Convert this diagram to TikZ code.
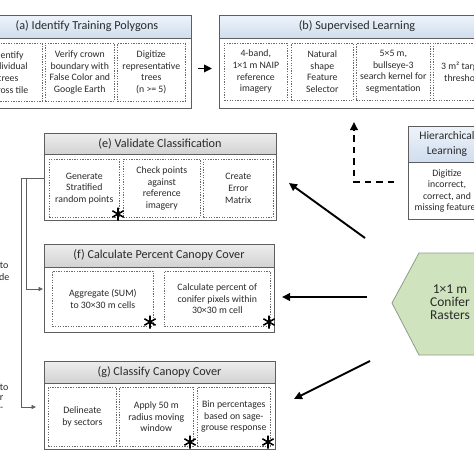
\documentclass[tikz,border=0pt]{standalone}
\usepackage{fontspec}
\setmainfont{Carlito}
\usetikzlibrary{arrows.meta}
\definecolor{boxline}{HTML}{5E5E5E}
\definecolor{innerline}{HTML}{6A6A6A}
\definecolor{bluetop}{HTML}{EEF3FA}
\definecolor{bluebot}{HTML}{CFDDEE}
\definecolor{graytop}{HTML}{EDEDED}
\definecolor{graybot}{HTML}{D2D2D2}
\definecolor{hexfill}{HTML}{CFE4BE}
\definecolor{hexline}{HTML}{8E9C86}
\definecolor{txtc}{HTML}{2A2A2A}
\begin{document}
\begin{tikzpicture}[x=1pt,y=-1pt,
  outerbox/.style={draw=boxline, line width=0.9pt, fill=white, inner sep=0pt, anchor=north west},
  blueband/.style={draw=boxline, line width=0.9pt, top color=bluetop, bottom color=bluebot, inner sep=0pt, anchor=north west},
  grayband/.style={draw=boxline, line width=0.9pt, top color=graytop, bottom color=graybot, inner sep=0pt, anchor=north west},
  innerbox/.style={draw=innerline, line width=0.6pt, dash pattern=on 1.3pt off 1.3pt, inner sep=1pt, anchor=north west, align=center, text=txtc, font=\fontsize{9.8}{11.6}\selectfont},
  ttl/.style={text=txtc, font=\fontsize{12.2}{14}\selectfont, inner sep=0pt},
  side/.style={text=txtc, font=\fontsize{10}{12}\selectfont, inner sep=0pt, anchor=east},
  bigarrow/.style={draw=black, line width=1.9pt, -{Triangle[length=8pt,width=7.5pt]}},
  dasharrow/.style={draw=black, line width=1.8pt, dash pattern=on 6.5pt off 5pt, -{Triangle[length=8pt,width=7.5pt]}},
  conn/.style={draw=boxline, line width=0.8pt},
  connarrow/.style={draw=boxline, line width=0.8pt, -{Triangle[length=4.5pt,width=4pt]}},
  astk/.pic={\draw[line width=1.6pt] (0,-6.5)--(0,6.5) (-5.6,-3.2)--(5.6,3.2) (-5.6,3.2)--(5.6,-3.2);}
]
\useasboundingbox (0,0) rectangle (474,474);
\clip (0,0) rectangle (474,474);
\fill[white] (0,0) rectangle (474,474);

% (a)
\node[outerbox, minimum width=222pt, minimum height=93pt] (a) at (-31,15) {};
\node[blueband, minimum width=222pt, minimum height=23pt] (ab) at (-31,15) {};
\node[ttl] (at) at (87,26.5) {(a) Identify Training Polygons};
\node[innerbox, minimum width=68pt, minimum height=58pt] (a1) at (-26,43) {Identify\\individual\\trees\\across tile};
\node[innerbox, minimum width=69pt, minimum height=58pt] (a2) at (45,43) {Verify crown\\boundary with\\False Color and\\Google Earth};
\node[innerbox, minimum width=68pt, minimum height=58pt] (a3) at (117,43) {Digitize\\representative\\trees\\(n >= 5)};

% (b)
\node[outerbox, minimum width=300pt, minimum height=93pt] (b) at (219,15) {};
\node[blueband, minimum width=300pt, minimum height=23pt] (bb) at (219,15) {};
\node[ttl] (bt) at (357,26.5) {(b) Supervised Learning};
\node[innerbox, minimum width=63pt, minimum height=57pt] (b1) at (224,43) {4-band,\\1×1 m NAIP\\reference\\imagery};
\node[innerbox, minimum width=62pt, minimum height=57pt] (b2) at (291,43) {Natural\\shape\\Feature\\Selector};
\node[innerbox, minimum width=74pt, minimum height=57pt] (b3) at (356,43) {5×5 m,\\bullseye-3\\search kernel for\\segmentation};
\node[innerbox, minimum width=60pt, minimum height=57pt] (b4) at (433,43) {3 m² target\\threshold};

\draw[bigarrow] ([xshift=6pt,yshift=-6.5pt]a.east) -- ([xshift=-7pt,yshift=-6.5pt]b.west);

% (e)
\node[outerbox, minimum width=232pt, minimum height=87pt] (e) at (44,133) {};
\node[grayband, minimum width=232pt, minimum height=21pt] (eb) at (44,133) {};
\node[ttl] (et) at (160,143.5) {(e) Validate Classification};
\node[innerbox, minimum width=70pt, minimum height=58pt] (e1) at (49,159) {Generate\\Stratified\\random points};
\node[innerbox, minimum width=77pt, minimum height=58pt] (e2) at (123,159) {Check points\\against\\reference\\imagery};
\node[innerbox, minimum width=70pt, minimum height=58pt] (e3) at (203,159) {Create\\Error\\Matrix};
\pic at (118,214) {astk};

% (f)
\node[outerbox, minimum width=230pt, minimum height=88pt] (f) at (44,244) {};
\node[grayband, minimum width=230pt, minimum height=23pt] (fb) at (44,244) {};
\node[ttl] (ft) at (159,255.5) {(f) Calculate Percent Canopy Cover};
\node[innerbox, minimum width=101pt, minimum height=55pt] (f1) at (52,271) {Aggregate (SUM)\\to 30×30 m cells};
\node[innerbox, minimum width=106pt, minimum height=55pt] (f2) at (164,271) {Calculate percent of\\conifer pixels within\\30×30 m cell};
\pic at (150,322) {astk};
\pic at (269,322) {astk};

% (g)
\node[outerbox, minimum width=231pt, minimum height=88pt] (g) at (44,361) {};
\node[grayband, minimum width=231pt, minimum height=22pt] (gb) at (44,361) {};
\node[ttl] (gt) at (159.5,372) {(g) Classify Canopy Cover};
\node[innerbox, minimum width=68pt, minimum height=59pt] (g1) at (48,387) {Delineate\\by sectors};
\node[innerbox, minimum width=74pt, minimum height=59pt] (g2) at (119,387) {Apply 50 m\\radius moving\\window};
\node[innerbox, minimum width=73pt, minimum height=59pt] (g3) at (197,387) {Bin percentages\\based on sage-\\grouse response};
\pic at (190,442) {astk};
\pic at (268,442) {astk};

% Hierarchical Learning
\node[outerbox, minimum width=78pt, minimum height=93pt] (h) at (408,126) {};
\node[blueband, minimum width=78pt, minimum height=36pt] (hb) at (408,126) {};
\node[ttl, align=center, font=\fontsize{11.5}{14.5}\selectfont] (ht) at (447,144) {Hierarchical\\Learning};
\node[text=txtc, align=center, font=\fontsize{9.8}{11.6}\selectfont, inner sep=0pt] (hx) at (447,191) {Digitize\\incorrect,\\correct, and\\missing features};

% Conifer rasters hexagon
\fill[hexfill, draw=hexline, line width=0.8pt] (392,303) -- (419,253) -- (481,253) -- (508,303) -- (481,355) -- (419,355) -- cycle;
\node[text=txtc, align=center, font=\fontsize{13.5}{13}\selectfont, inner sep=0pt] (r) at (450,302) {1×1 m\\Conifer\\Rasters};

% arrows from rasters
\coordinate (re0) at (365,238);
\coordinate (re1) at (289,183);
\coordinate (rf0) at (367,297);
\coordinate (rf1) at (282,297);
\coordinate (rg0) at (370,361);
\coordinate (rg1) at (294,399);
\draw[bigarrow] (re0) -- (re1);
\draw[bigarrow] (rf0) -- (rf1);
\draw[bigarrow] (rg0) -- (rg1);

% dashed feedback arrow
\coordinate (hd0) at (394,182);
\coordinate (hd1) at (354,182);
\coordinate (hd2) at (354,122);
\draw[dasharrow] (hd0) -- (hd1) -- (hd2);

% left connectors
\coordinate (j1) at (21,178);
\coordinate (j2) at (26,178);
\coordinate (fin) at (43,289);
\coordinate (gin) at (36,407);
\draw[conn] (e.west |- j1) -- (j1);
\draw[connarrow] (j1) |- (gin);
\draw[connarrow] (j2) |- (fin);

% clipped side texts
\node[side] (s1) at (8.5,265) {to};
\node[side] (s2) at (9.5,277) {de};
\node[side] (s3) at (8.5,387) {to};
\node[side] (s4) at (3.5,398) {r};
\node[side] (s5) at (3.5,409) {-};
\end{tikzpicture}
\end{document}
